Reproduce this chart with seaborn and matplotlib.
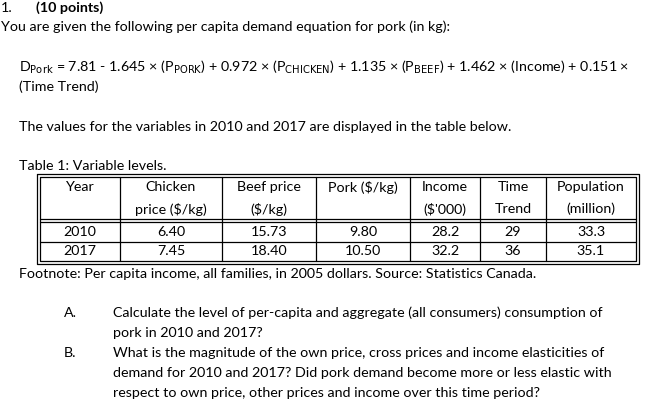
import matplotlib
matplotlib.use("Agg")
import matplotlib.pyplot as plt
import seaborn as sns

sns.set_theme(style="white")
FONT = "Lato"

header_top = ["Year", "Chicken", "Beef price", "Pork ($/kg)", "Income", "Time", "Population"]
header_bot = ["", "price ($/kg)", "($/kg)", "", "($'000)", "Trend", "(million)"]
years = ["2010", "2017"]
chicken = ["6.40", "7.45"]
beef = ["15.73", "18.40"]
pork = ["9.80", "10.50"]
income = ["28.2", "32.2"]
trend = ["29", "36"]
population = ["33.3", "35.1"]
rows = [list(r) for r in zip(years, chicken, beef, pork, income, trend, population)]

fig = plt.figure(figsize=(6.51, 4.18), dpi=100)
ax = fig.add_axes([0, 0, 1, 1])
ax.set_xlim(0, 651); ax.set_ylim(418, 0); ax.axis("off")
fs = 10.3
def t(x, y, s, ha="left", **kw):
    ax.text(x, y, s, ha=ha, va="center", fontsize=fs, family=FONT, color="black", **kw)

t(1, 8, "1.")
t(36, 8, "(10 points)", fontweight="bold")
t(1, 27, "You are given the following per capita demand equation for pork (in kg):")
t(19, 67, "D$_{\\mathrm{Pork}}$ = 7.81 - 1.645 × (P$_{\\mathrm{PORK}}$) + 0.972 × (P$_{\\mathrm{CHICKEN}}$) + 1.135 × (P$_{\\mathrm{BEEF}}$) + 1.462 × (Income) + 0.151 ×")
t(19, 87, "(Time Trend)")
t(19, 127, "The values for the variables in 2010 and 2017 are displayed in the table below.")
t(19, 166, "Table 1: Variable levels.")

L, R = 40, 636
vx = [L, 120, 222, 316, 410, 480, 546, R]
top, hb, r1, bot = 177, 219, 242, 261
lw = 0.9
for off in (0, 3):
    ax.plot([L - off, R + off, R + off, L - off, L - off],
            [top - off, top - off, bot + off, bot + off, top - off], color="black", lw=lw)
ax.plot([L, R], [hb, hb], color="black", lw=lw)
ax.plot([L, R], [hb + 3, hb + 3], color="black", lw=lw)
ax.plot([L, R], [r1, r1], color="black", lw=lw)
for x in vx[1:-1]:
    ax.plot([x, x], [top, bot], color="black", lw=lw)
cx = [(vx[i] + vx[i + 1]) / 2 for i in range(7)]
for i in range(7):
    t(cx[i], 187, header_top[i], ha="center")
    if header_bot[i]:
        t(cx[i], 209, header_bot[i], ha="center")
for j, row in enumerate(rows):
    for i, v in enumerate(row):
        t(cx[i], 232 + j * 19, v, ha="center")

t(19, 274, "Footnote: Per capita income, all families, in 2005 dollars. Source: Statistics Canada.")
t(64, 313, "A.")
t(113, 313, "Calculate the level of per-capita and aggregate (all consumers) consumption of")
t(113, 333, "pork in 2010 and 2017?")
t(64, 353, "B.")
t(113, 353, "What is the magnitude of the own price, cross prices and income elasticities of")
t(113, 373, "demand for 2010 and 2017? Did pork demand become more or less elastic with")
t(113, 393, "respect to own price, other prices and income over this time period?")

fig.savefig("out.png", dpi=100)
